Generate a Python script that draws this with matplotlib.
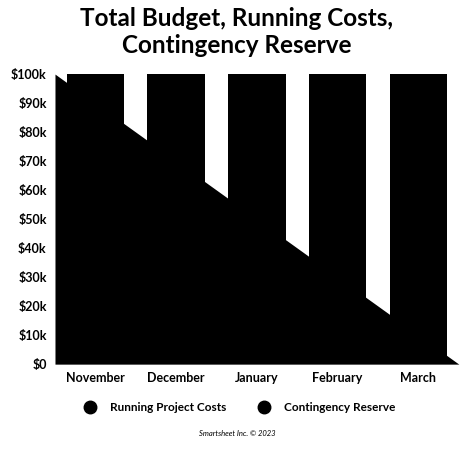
import matplotlib
matplotlib.use("Agg")
import matplotlib.pyplot as plt
from matplotlib.lines import Line2D
import numpy as np

# data (thousands of dollars)
months = ["November", "December", "January", "February", "March"]
total_budget = [100, 100, 100, 100, 100]
# reserve level at each month boundary (start of Nov .. end of Mar)
reserve_levels = [100, 80, 60, 40, 20, 0]
y_ticks = [0, 10, 20, 30, 40, 50, 60, 70, 80, 90, 100]
y_labels = ["$0"] + [f"${v}k" for v in y_ticks[1:]]

plt.rcParams["font.family"] = ["Lato", "DejaVu Sans"]

fig = plt.figure(figsize=(4.74, 4.49), dpi=100)
ax = fig.add_axes([0.116, 0.189, 0.852, 0.646])

x = np.arange(len(months))
ax.bar(x, total_budget, width=0.71, color="black", zorder=2)
edges = np.arange(len(reserve_levels)) - 0.5
ax.fill_between(edges, reserve_levels, 0, color="black", linewidth=0, zorder=1)

ax.set_xlim(-0.5, len(months) - 0.5)
ax.set_ylim(0, 100)
ax.set_yticks(y_ticks)
ax.set_yticklabels(y_labels, fontsize=9, fontweight="bold")
ax.set_xticks(x)
ax.set_xticklabels(months, fontsize=9, fontweight="bold")
ax.tick_params(length=0, pad=6)
ax.tick_params(axis="x", pad=6)
for s in ax.spines.values():
    s.set_visible(False)

fig.suptitle("Total Budget, Running Costs,\nContingency Reserve", fontsize=17.5,
             fontweight="bold", y=0.985, linespacing=1.25)

handles = [
    Line2D([], [], marker="o", linestyle="", color="black", markersize=9),
    Line2D([], [], marker="o", linestyle="", color="black", markersize=9),
]
fig.legend(handles, ["Running Project Costs", "Contingency Reserve"],
           loc="center", bbox_to_anchor=(0.5, 0.092), ncol=2, frameon=False,
           prop={"weight": "bold", "size": 8.5}, handletextpad=0.7, columnspacing=2.2)

fig.text(0.5, 0.035, "Smartsheet Inc. \u00a9 2023", ha="center", va="center",
         fontsize=5.5, style="italic")

fig.savefig("out.png", dpi=100)
